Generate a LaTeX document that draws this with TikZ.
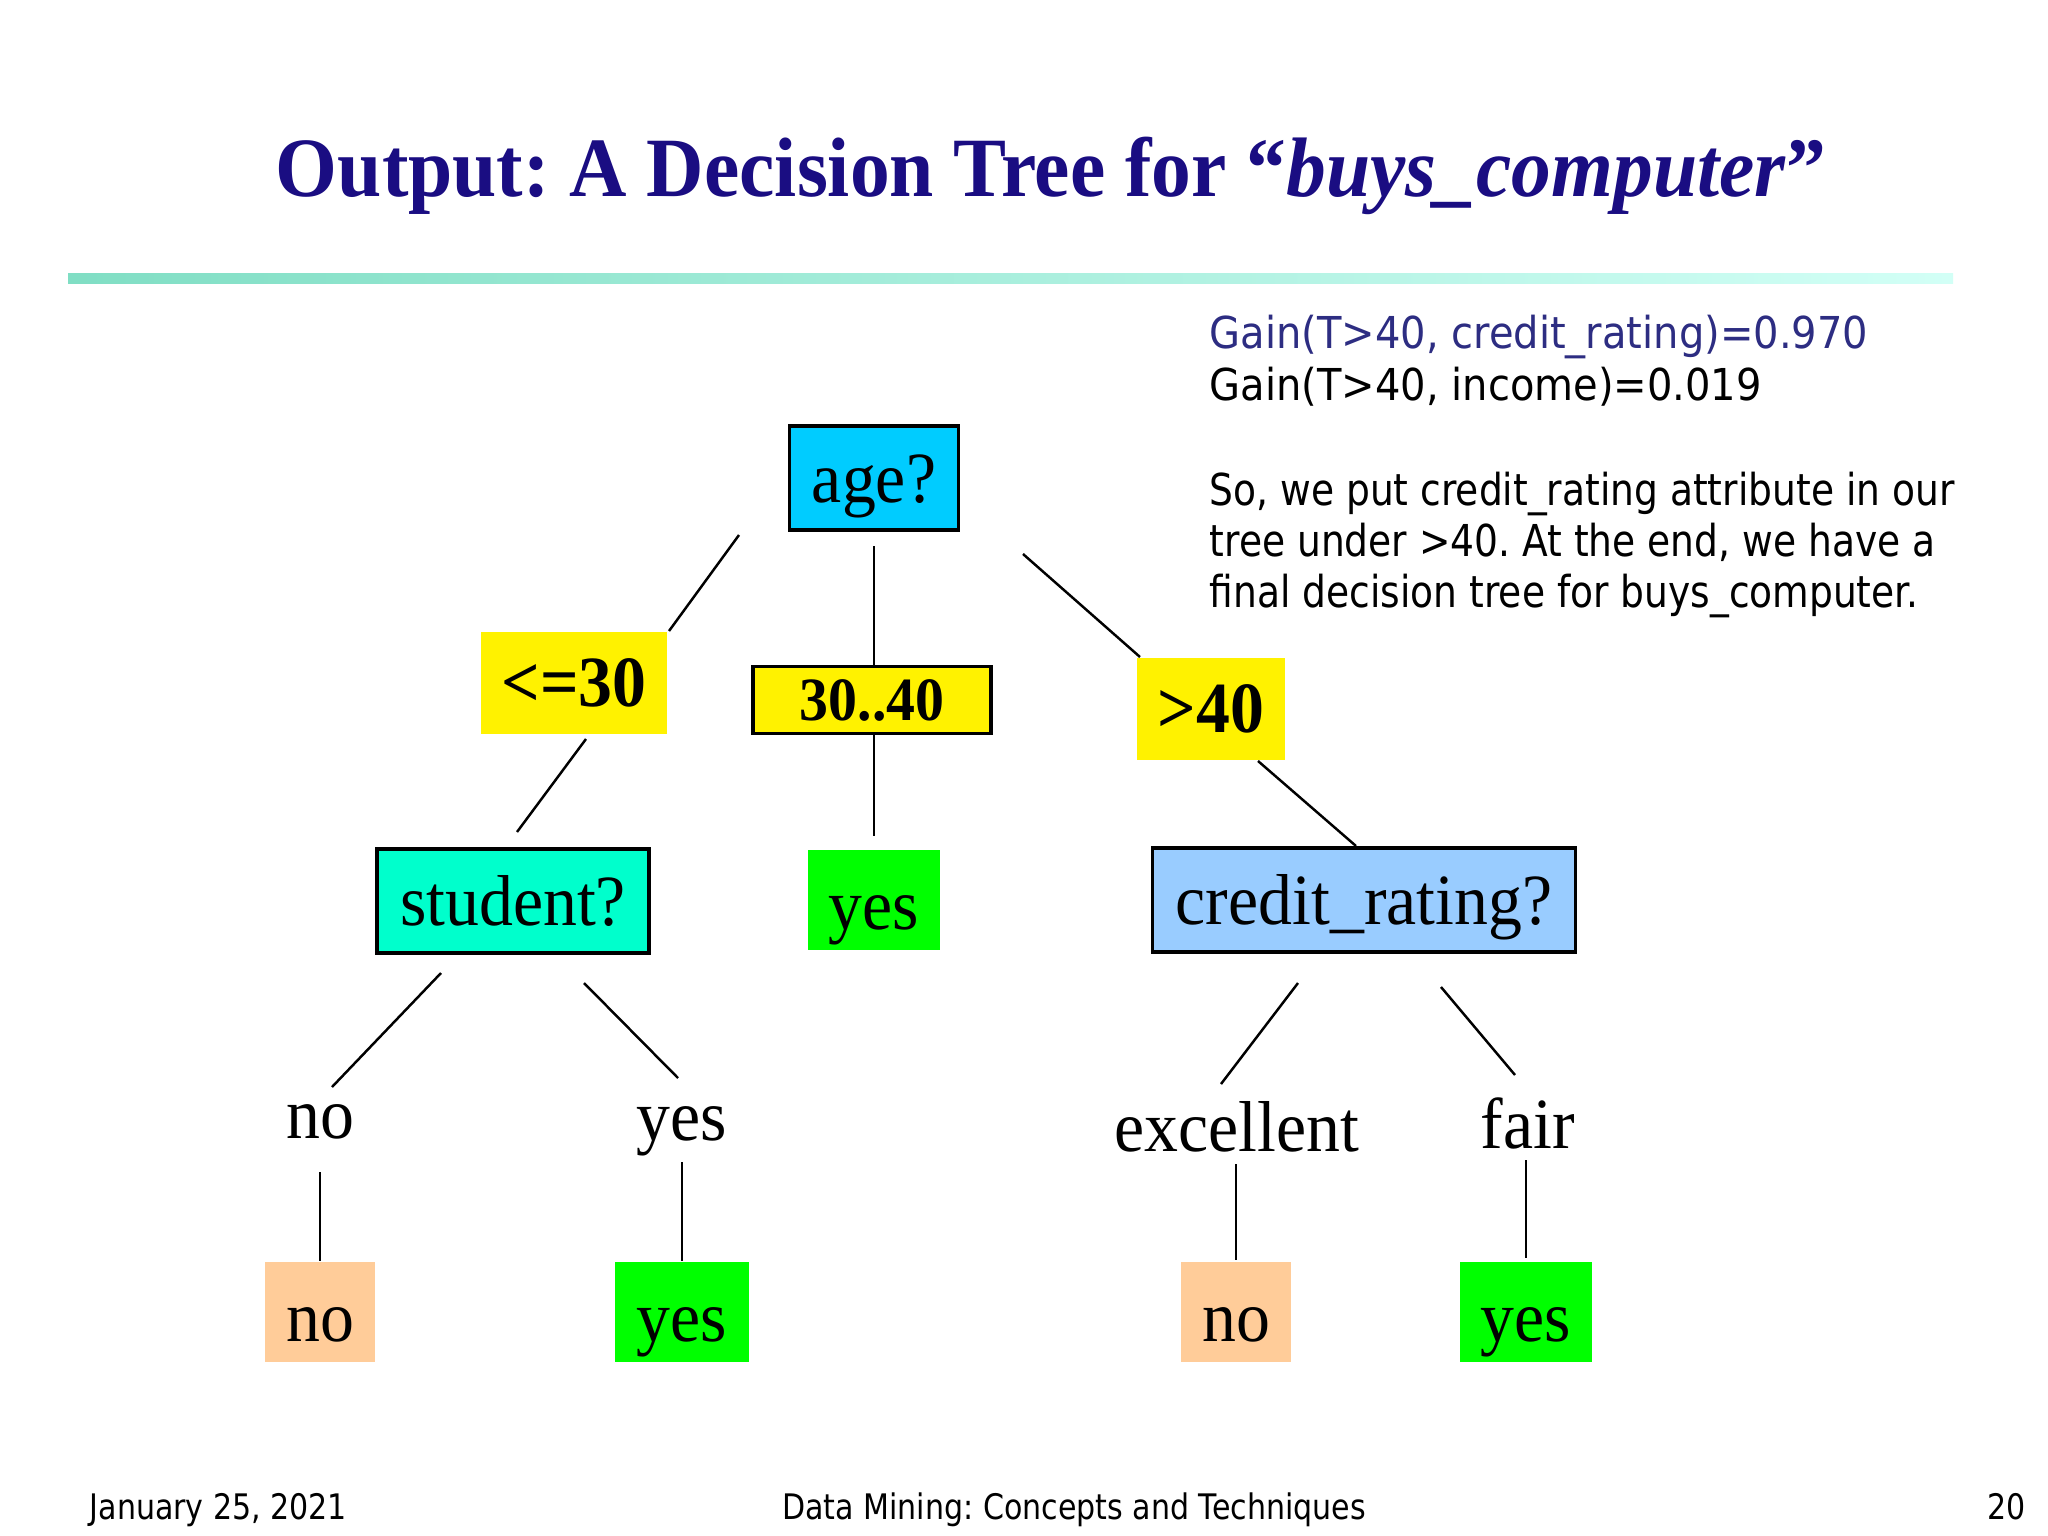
\documentclass[tikz,border=0pt]{standalone}
\usepackage{fontspec}
\setmainfont{Liberation Serif}[FakeStretch=0.94]
\newfontfamily\titlefont{Liberation Serif}[FakeStretch=0.942]
\newfontfamily\notefont{DejaVu Sans}[FakeStretch=0.855]
\newfontfamily\gainfont{DejaVu Sans}[FakeStretch=0.91]
\frenchspacing
\usetikzlibrary{positioning,calc}
\definecolor{titleblue}{RGB}{26,13,130}
\definecolor{gainblue}{RGB}{45,45,130}
\definecolor{agecyan}{RGB}{0,204,255}
\definecolor{studentaqua}{RGB}{0,255,204}
\definecolor{creditblue}{RGB}{153,204,255}
\definecolor{leafgreen}{RGB}{0,255,0}
\definecolor{leafpeach}{RGB}{255,204,153}
\definecolor{ruleleft}{RGB}{128,222,196}
\definecolor{ruleright}{RGB}{210,255,246}
\tikzset{
    slidetitle/.style={
        anchor=base,
        inner sep=0pt,
        text=titleblue,
        font=\titlefont\bfseries\fontsize{24}{28}\selectfont
    },
    note/.style={
        anchor=base west,
        inner sep=0pt,
        font=\notefont\fontsize{12.5}{15}\selectfont
    },
    gain/.style={
        note,
        font=\gainfont\fontsize{12.5}{15}\selectfont
    },
    footer/.style={
        inner sep=0pt,
        font=\notefont\fontsize{10}{12}\selectfont
    },
    question/.style={
        draw,
        line width=1pt,
        inner sep=0pt,
        minimum height=1.04cm,
        text height=13.9pt,
        text depth=0pt,
        font=\fontsize{20.5}{24}\selectfont
    },
    agerange/.style={
        fill=yellow,
        inner sep=0pt,
        minimum height=1.02cm,
        font=\bfseries\fontsize{20.5}{24}\selectfont
    },
    answer/.style={
        inner sep=0pt,
        text depth=0pt,
        font=\fontsize{20.5}{24}\selectfont
    },
    leaf/.style={
        inner sep=0pt,
        minimum height=1.0cm,
        text height=16.8pt,
        text depth=0pt,
        font=\fontsize{20.5}{24}\selectfont
    },
    edge/.style={
        draw,
        line width=0.7pt
    }
}
\begin{document}
\begin{tikzpicture}[x=0.01cm,y=-0.01cm]
    \useasboundingbox (0,0) rectangle (2048,1536);
    \fill[white] (0,0) rectangle (2048,1536);

    \node[slidetitle] (title) at (1051,196) {Output: A Decision Tree for “\textit{buys\_computer}”};
    \shade[left color=ruleleft, right color=ruleright] (68,273) rectangle (1953,283);

    % gains and summary
    \node[gain, text=gainblue] (gaincredit) at (1209,348) {Gain(T>40, credit\_rating)=0.970};
    \node[gain] (gainincome) at (1209,400) {Gain(T>40, income)=0.019};
    \node[note] (summary1) at (1209,505) {So, we put credit\_rating attribute in our};
    \node[note] (summary2) at (1209,556) {tree under >40. At the end, we have a};
    \node[note] (summary3) at (1209,607) {final decision tree for buys\_computer.};

    % tree
    \node[question, fill=agecyan, minimum width=1.69cm] (age) at (874,478) {age?};
    \node[agerange, minimum width=1.86cm] (le30) at (574,683) {<=30};
    \node[agerange, draw, line width=1pt, minimum width=2.38cm, minimum height=0.67cm,
          font=\bfseries\fontsize{17.5}{20}\selectfont] (mid) at (872,700) {30..40};
    \node[agerange, minimum width=1.47cm] (gt40) at (1211,709) {>40};

    \node[question, fill=studentaqua, minimum width=2.72cm] (student) at (513,901) {student?};
    \node[leaf, fill=leafgreen, minimum width=1.31cm] (yesmid) at (874,900) {yes};
    \node[question, fill=creditblue, minimum width=4.23cm] (credit) at (1364,900) {credit\_rating?};

    \node[answer] (studno) at (320,1121) {no};
    \node[answer] (studyes) at (682,1123) {yes};
    \node[answer] (excellent) at (1237,1126) {excellent};
    \node[answer] (fair) at (1528,1123) {fair};

    \node[leaf, fill=leafpeach, minimum width=1.10cm] (leafno1) at (320,1312) {no};
    \node[leaf, fill=leafgreen, minimum width=1.33cm] (leafyes1) at (682,1312) {yes};
    \node[leaf, fill=leafpeach, minimum width=1.09cm] (leafno2) at (1236,1312) {no};
    \node[leaf, fill=leafgreen, minimum width=1.32cm] (leafyes2) at (1526,1312) {yes};

    \path[edge] ([shift={(-135,57)}]age.center) -- ([shift={(95,-52)}]le30.center);
    \path[edge] ([shift={(0,68)}]age.center) -- (age.center |- mid.north);
    \path[edge] ([shift={(149,76)}]age.center) -- ([shift={(-71,-52)}]gt40.center);
    \path[edge] ([shift={(12,56)}]le30.center) -- ([shift={(4,-69)}]student.center);
    \path[edge] (yesmid.center |- mid.south) -- ([shift={(0,-64)}]yesmid.center);
    \path[edge] ([shift={(47,52)}]gt40.center) -- ([shift={(-8,-54)}]credit.center);
    \path[edge] ([shift={(-72,72)}]student.center) -- ([shift={(12,-34)}]studno.center);
    \path[edge] ([shift={(71,82)}]student.center) -- ([shift={(-4,-45)}]studyes.center);
    \path[edge] ([shift={(0,51)}]studno.center) -- (leafno1.north);
    \path[edge] ([shift={(0,39)}]studyes.center) -- (leafyes1.north);
    \path[edge] ([shift={(-66,83)}]credit.center) -- ([shift={(-16,-42)}]excellent.center);
    \path[edge] ([shift={(77,87)}]credit.center) -- ([shift={(-13,-48)}]fair.center);
    \path[edge] ([shift={(-1,38)}]excellent.center) -- ([shift={(0,-52)}]leafno2.center);
    \path[edge] ([shift={(-2,37)}]fair.center) -- ([shift={(0,-54)}]leafyes2.center);

    % footer
    \node[footer, anchor=base west] (date) at (89,1519) {January 25, 2021};
    \node[footer, anchor=base] (course) at (1074,1519) {Data Mining: Concepts and Techniques};
    \node[footer, anchor=base east] (page) at (2026,1519) {20};
\end{tikzpicture}
\end{document}
